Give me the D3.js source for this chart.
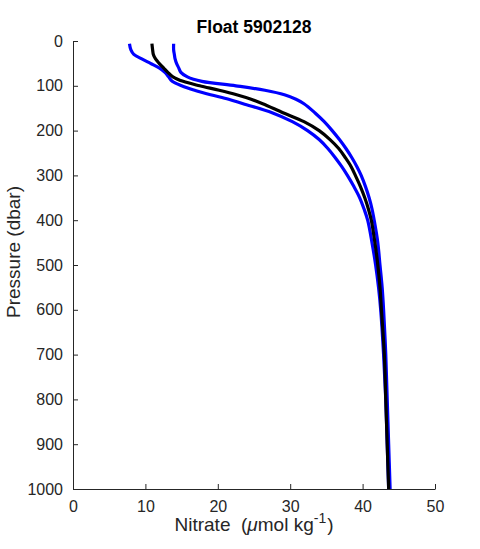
<!DOCTYPE html>
<html>
<head>
<meta charset="utf-8">
<script src="https://cdn.jsdelivr.net/npm/d3@7"></script>
<style>
  body { margin: 0; background: #fff; }
  svg { display: block; font-family: "Liberation Sans", Arial, Helvetica, sans-serif; }
</style>
</head>
<body>
<svg id="chart" width="480" height="549"></svg>
<script>
// ---- data ----
const title = "Float 5902128";
const pressure = [6, 20, 30, 40, 50, 60, 70, 80, 90, 100, 110, 120, 130, 140, 160, 180, 200, 220, 240, 260, 280, 300, 325, 350, 375, 400, 450, 500, 550, 600, 700, 800, 900, 1000];
const nitrateMean = [10.9, 11.0, 11.1, 11.4, 11.9, 12.5, 13.1, 13.8, 15.2, 17.5, 20.2, 22.6, 24.6, 26.2, 29.0, 31.9, 34.0, 35.5, 36.7, 37.6, 38.4, 39.0, 39.7, 40.3, 40.8, 41.2, 41.7, 42.1, 42.4, 42.6, 43.0, 43.2, 43.4, 43.6];
const nitrateUpper = [13.9, 13.9, 14.0, 14.1, 14.3, 14.6, 14.9, 15.8, 17.8, 22.5, 26.5, 29.2, 30.8, 31.9, 33.4, 34.7, 35.8, 36.8, 37.7, 38.5, 39.2, 39.8, 40.4, 40.9, 41.3, 41.6, 42.1, 42.4, 42.7, 42.9, 43.2, 43.4, 43.6, 43.8];
const nitrateLower = [7.8, 8.0, 8.4, 9.5, 10.7, 11.9, 12.7, 13.2, 13.7, 15.0, 16.8, 19.0, 21.5, 23.5, 27.5, 30.3, 32.4, 34.0, 35.2, 36.2, 37.1, 37.9, 38.8, 39.6, 40.2, 40.7, 41.3, 41.8, 42.2, 42.5, 42.9, 43.2, 43.4, 43.6];
const xTicks = [0, 10, 20, 30, 40, 50];
const yTicks = [0, 100, 200, 300, 400, 500, 600, 700, 800, 900, 1000];

// ---- layout ----
const svg = d3.select("#chart");
const m = { left: 73, right: 435, top: 41, bottom: 489 };
const axisColor = "#262626";

const x = d3.scaleLinear().domain([0, 50]).range([m.left, m.right]);
const y = d3.scaleLinear().domain([0, 1000]).range([m.top, m.bottom]);

const xAxis = svg.append("g")
  .attr("transform", `translate(0,${m.bottom})`)
  .call(d3.axisBottom(x).tickValues(xTicks).tickFormat(d3.format("d")).tickSizeInner(-5).tickSizeOuter(0).tickPadding(12));
const yAxis = svg.append("g")
  .attr("transform", `translate(${m.left},0)`)
  .call(d3.axisLeft(y).tickValues(yTicks).tickFormat(d3.format("d")).tickSizeInner(-5).tickSizeOuter(0).tickPadding(10));

[xAxis, yAxis].forEach(g => {
  g.selectAll("path.domain").attr("stroke", axisColor).attr("stroke-width", 1);
  g.selectAll(".tick line").attr("stroke", axisColor).attr("stroke-width", 1);
  g.selectAll(".tick text").attr("fill", axisColor).style("font-size", "16px");
});

const line = d3.line()
  .x(d => x(d[0]))
  .y(d => y(d[1]))
  .curve(d3.curveCatmullRom.alpha(0.5));

const series = [
  { vals: nitrateLower, color: "#0000ff" },
  { vals: nitrateUpper, color: "#0000ff" },
  { vals: nitrateMean, color: "#000000" }
];
series.forEach(s => {
  svg.append("path")
    .datum(s.vals.map((v, i) => [v, pressure[i]]))
    .attr("fill", "none")
    .attr("stroke", s.color)
    .attr("stroke-width", 3.2)
    .attr("stroke-linejoin", "round")
    .attr("d", line);
});

svg.append("text")
  .attr("x", (m.left + m.right) / 2)
  .attr("y", 33)
  .attr("text-anchor", "middle")
  .attr("font-weight", "bold")
  .attr("fill", "#000")
  .style("font-size", "17.5px")
  .text(title);

const xl = svg.append("text")
  .attr("x", (m.left + m.right) / 2)
  .attr("y", 531)
  .attr("text-anchor", "middle")
  .attr("fill", axisColor)
  .style("font-size", "19px");
xl.append("tspan").text("Nitrate \u00a0(");
xl.append("tspan").attr("font-style", "italic").text("μ");
xl.append("tspan").text("mol kg");
xl.append("tspan").attr("dy", -8).style("font-size", "14px").text("-1");
xl.append("tspan").attr("dy", 8).attr("dx", 1).text(")");

svg.append("text")
  .attr("transform", `translate(20,${(m.top + m.bottom) / 2 - 13}) rotate(-90)`)
  .attr("text-anchor", "middle")
  .attr("fill", axisColor)
  .style("font-size", "19px")
  .text("Pressure (dbar)");
</script>
</body>
</html>
